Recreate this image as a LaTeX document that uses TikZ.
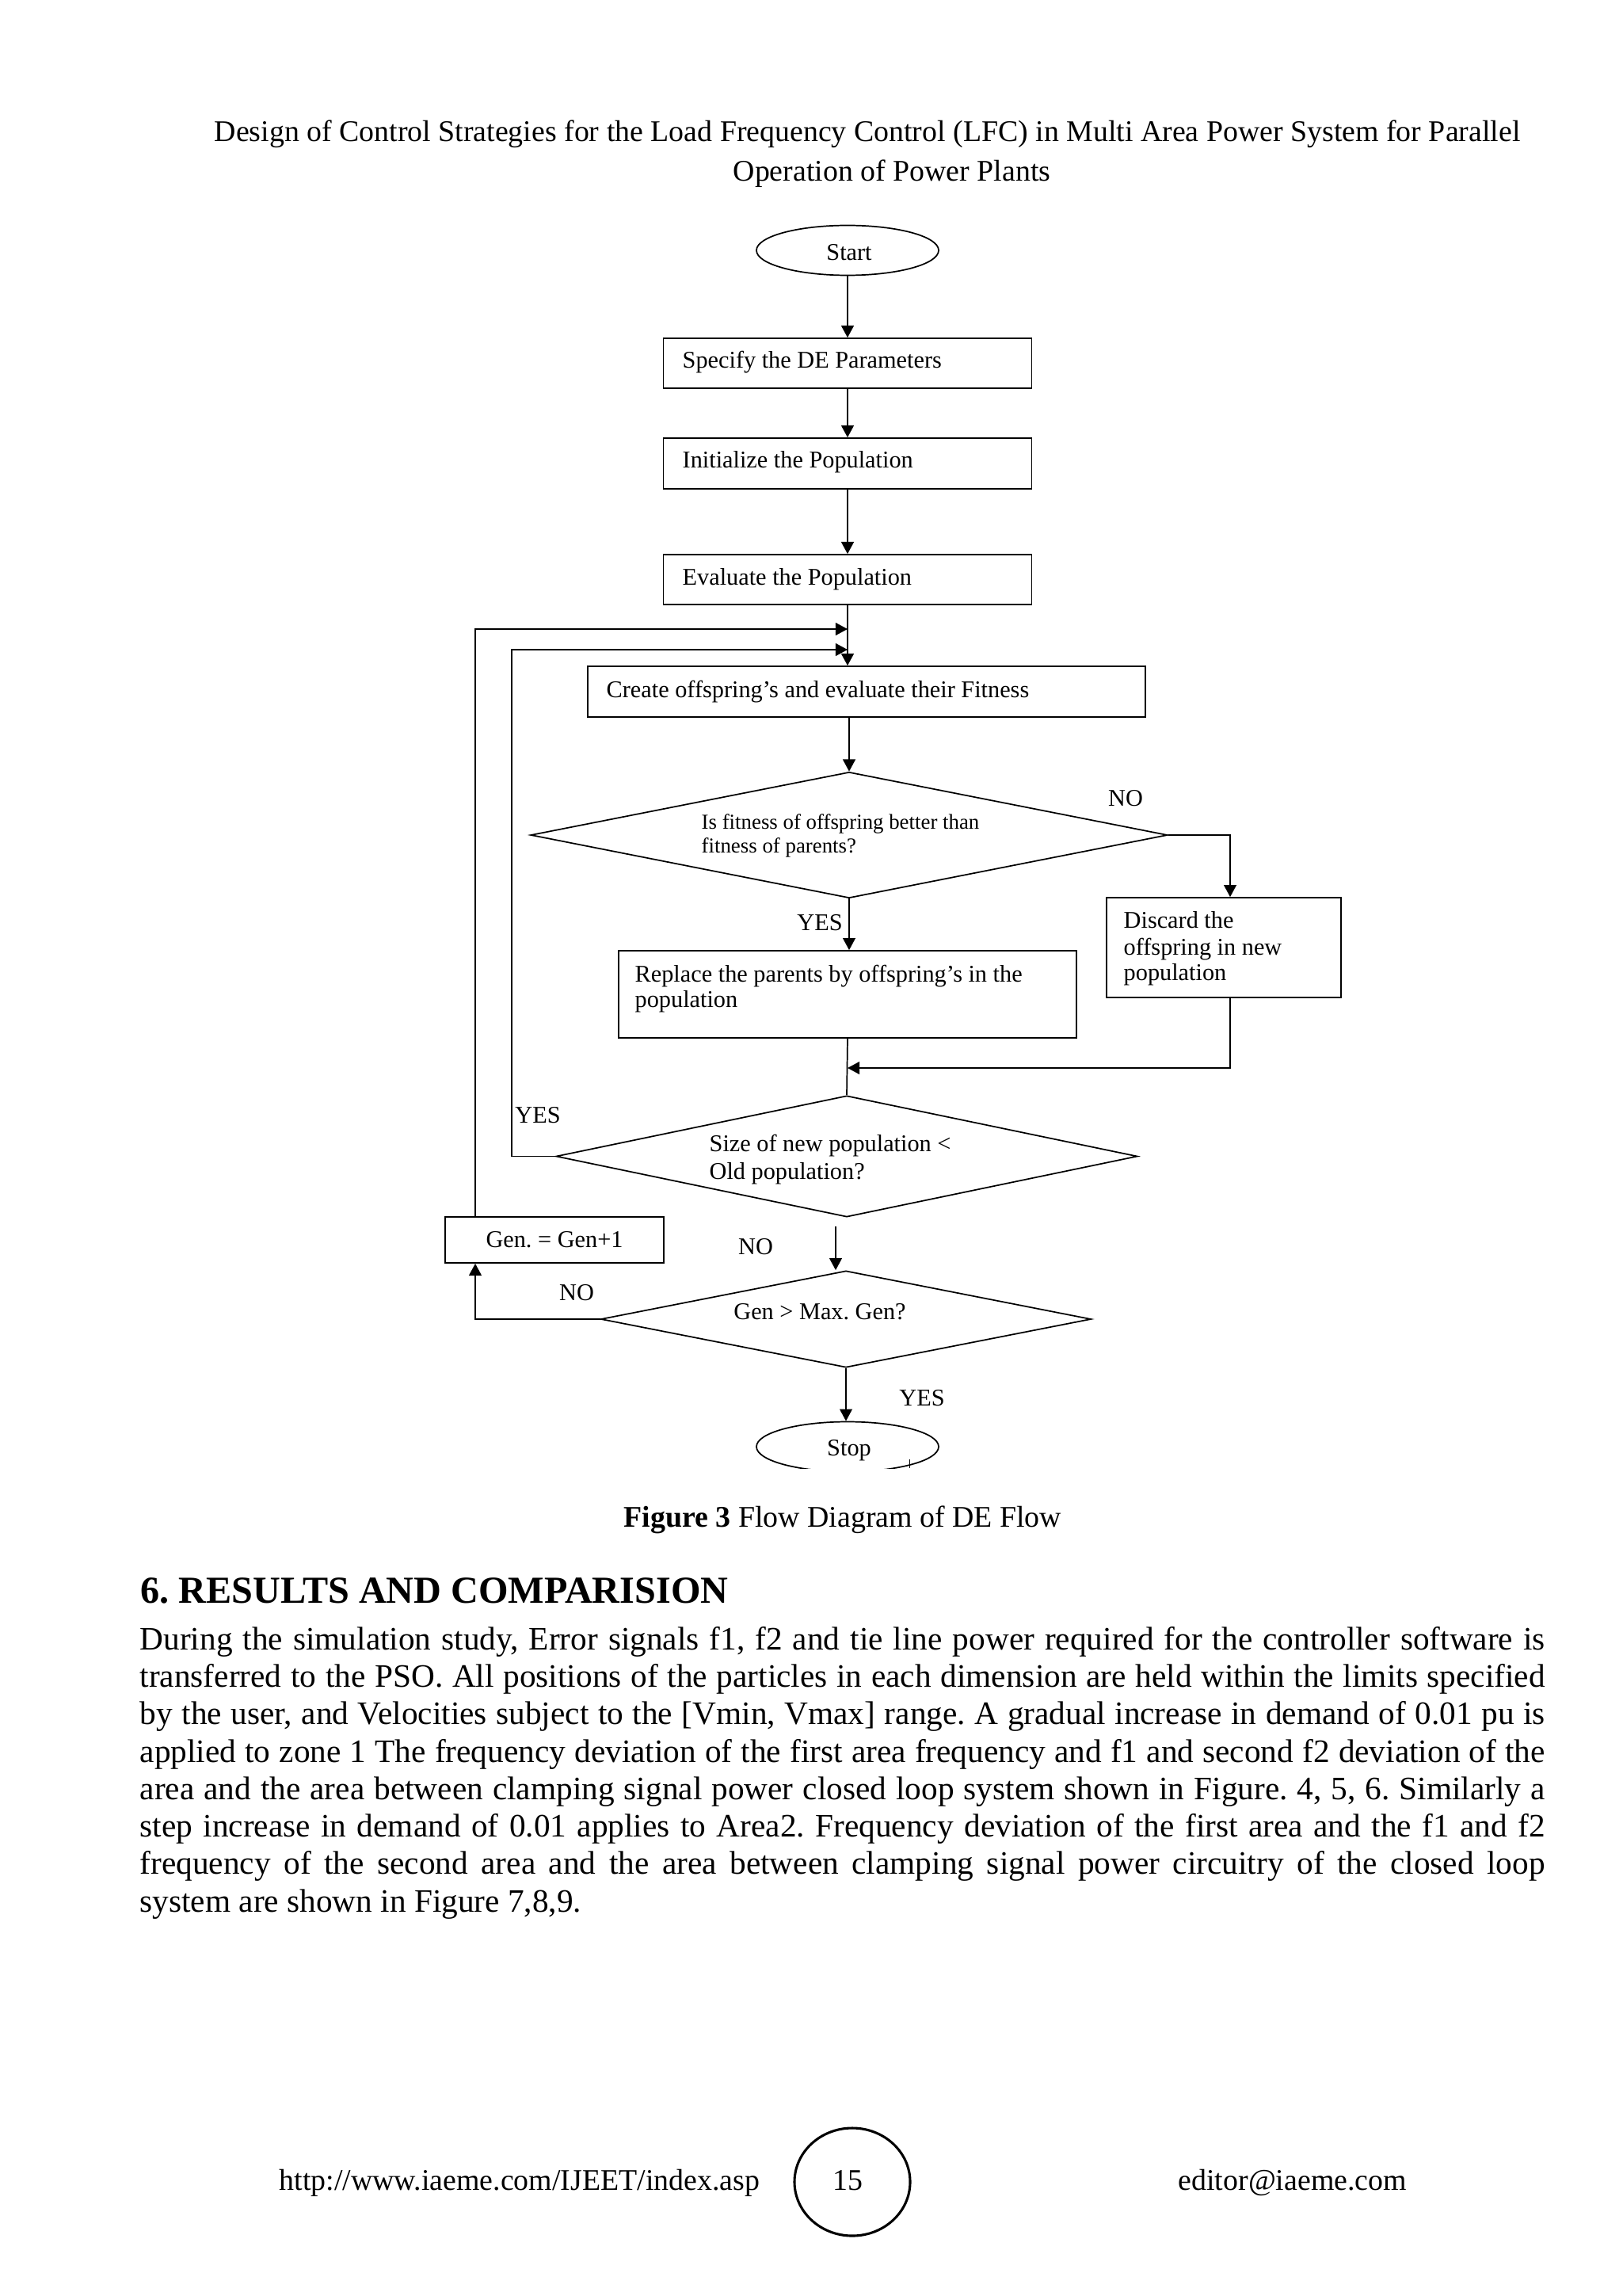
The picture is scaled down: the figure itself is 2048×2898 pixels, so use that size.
\documentclass[tikz,border=0pt]{standalone}
\usepackage{fontspec}
\setmainfont{Liberation Serif}[Ligatures=CommonOff]
\usetikzlibrary{shapes.geometric,arrows.meta,calc}
\def\pxu{0.29053pt}
\frenchspacing
\begin{document}
\begin{tikzpicture}[x=0.29053pt,y=-0.29053pt,
  box/.style={draw, line width=0.5pt, rectangle, inner sep=0pt},
  dia/.style={draw, line width=0.5pt, diamond, inner sep=0pt},
  term/.style={draw, line width=0.5pt, ellipse, inner sep=0pt},
  lbl/.style={font=\fontsize{8.8}{10}\selectfont, inner sep=0pt},
  lbls/.style={font=\fontsize{7.8}{9}\selectfont, inner sep=0pt},
  conn/.style={line width=0.5pt},
  arr/.style={conn, -{Triangle[width=4.6pt,length=4.4pt]}},
  page/.style={inner sep=0pt, font=\fontsize{11}{12.65}\selectfont},
]
\fill[white] (0,0) rectangle (2048,2898);
\useasboundingbox (0,0) rectangle (2048,2898);

% header
\node[page, anchor=base west] (hd1) at (270,179) {Design of Control Strategies for the Load Frequency Control (LFC) in Multi Area Power System for Parallel};
\node[page, anchor=base] (hd2) at (1126,229) {Operation of Power Plants};

% flowchart shapes
\node[term, minimum width=230*\pxu, minimum height=63*\pxu] (start) at (1070,316) {};
\node[box, minimum width=465*\pxu, minimum height=63*\pxu] (spec) at (1070,458.5) {};
\node[box, minimum width=465*\pxu, minimum height=64*\pxu] (init) at (1070,585) {};
\node[box, minimum width=465*\pxu, minimum height=63*\pxu] (eval) at (1070,731.5) {};
\node[box, minimum width=704*\pxu, minimum height=64*\pxu] (create) at (1094,873) {};
\node[dia, minimum width=804*\pxu, minimum height=159*\pxu] (fit) at (1072,1054) {};
\node[box, minimum width=296*\pxu, minimum height=126*\pxu] (discard) at (1545,1196) {};
\node[box, minimum width=578*\pxu, minimum height=110*\pxu] (replace) at (1070,1255) {};
\node[dia, minimum width=734*\pxu, minimum height=153*\pxu] (size) at (1069,1459.5) {};
\node[box, minimum width=276*\pxu, minimum height=58*\pxu] (gen) at (700,1565) {};
\node[dia, minimum width=619*\pxu, minimum height=122*\pxu] (maxg) at (1068,1665) {};
\begin{scope}
\clip (0,0) rectangle (2048,1853);
\node[term, minimum width=230*\pxu, minimum height=63*\pxu] (stop) at (1070,1826) {};
\end{scope}
\draw[conn, line width=0.3pt] (1148,1842) -- (1148,1853);

% texts in shapes
\node[lbl, anchor=base] (tstart) at (1072,329) {Start};
\node[lbl, anchor=base west] (tspec) at (861,465) {Specify the DE Parameters};
\node[lbl, anchor=base west] (tinit) at (861,591) {Initialize the Population};
\node[lbl, anchor=base west] (teval) at (861,738) {Evaluate the Population};
\node[lbl, anchor=base west] (tcreate) at (765,880) {Create offspring’s and evaluate their Fitness};
\node[lbls, anchor=base west] (tfit1) at (885,1046) {Is fitness of offspring better than};
\node[lbls, anchor=base west] (tfit2) at (885,1076) {fitness of parents?};
\node[lbl, anchor=base west] (tdis1) at (1418,1171) {Discard the};
\node[lbl, anchor=base west] (tdis2) at (1418,1205) {offspring in new};
\node[lbl, anchor=base west] (tdis3) at (1418,1237) {population};
\node[lbl, anchor=base west] (trep1) at (801,1239) {Replace the parents by offspring’s in the};
\node[lbl, anchor=base west] (trep2) at (801,1271) {population};
\node[lbl, anchor=base west] (tsize1) at (895,1453) {Size of new population <};
\node[lbl, anchor=base west] (tsize2) at (895,1488) {Old population?};
\node[lbl, anchor=base] (tgen) at (700,1574) {Gen. = Gen+1};
\node[lbl, anchor=base] (tmaxg) at (1035,1665) {Gen > Max. Gen?};
\node[lbl, anchor=base] (tstop) at (1072,1837) {Stop};

% labels
\node[lbl, anchor=base] (lno1) at (1421,1017) {NO};
\node[lbl, anchor=base] (lyes1) at (1035,1174) {YES};
\node[lbl, anchor=base] (lyes2) at (679,1417) {YES};
\node[lbl, anchor=base] (lno2) at (954,1583) {NO};
\node[lbl, anchor=base] (lno3) at (728,1641) {NO};
\node[lbl, anchor=base] (lyes3) at (1164,1774) {YES};

% helper coordinates
\coordinate (loopout) at (1070,794);
\coordinate (loopin) at (1070,820);
\coordinate (outx) at (600,0);
\coordinate (yesx) at (646,0);
\coordinate (join) at (1070,1348);

% connectors
\draw[arr] (start.south) -- (spec.north);
\draw[arr] (spec.south) -- (init.north);
\draw[arr] (init.south) -- (eval.north);
\draw[arr] (eval.south) -- (eval.south |- create.north);
\draw[arr] (fit.north |- create.south) -- (fit.north);
\draw[arr] (fit.east) -| ([shift={(8,0)}]discard.north);
\draw[arr] (fit.south) -- (fit.south |- replace.north);
\draw[conn] (replace.south) -- (size.north);
\draw[arr] ([shift={(8,0)}]discard.south) |- (join);
\draw[arr] (size.west) -| (yesx |- loopin) -- (loopin);
\draw[arr] ([shift={(-14,11)}]size.south) -- ([shift={(-13,0)}]maxg.north);
\draw[arr] (maxg.west) -| (outx |- gen.south);
\draw[arr] (outx |- gen.north) |- (loopout);
\draw[arr] (maxg.south) -- (maxg.south |- stop.north);

% caption and body
\node[page, anchor=base west] (cap) at (787,1927) {\textbf{Figure 3} Flow Diagram of DE Flow};
\node[inner sep=0pt, anchor=base west, font=\fontsize{14}{16}\selectfont\bfseries] (head) at (177,2023) {6. RESULTS AND COMPARISION};
\node[inner sep=0pt, anchor=base west, text width=515.4pt, align=justify, font=\fontsize{12}{13.75}\selectfont] (body) at (176,2082) {During the simulation study, Error signals f1, f2 and tie line power required for the controller software is\linebreak
transferred to the PSO. All positions of the particles in each dimension are held within the limits specified\linebreak
by the user, and Velocities subject to the [Vmin, Vmax] range. A gradual increase in demand of 0.01 pu is\linebreak
applied to zone 1 The frequency deviation of the first area frequency and f1 and second f2 deviation of the\linebreak
area and the area between clamping signal power closed loop system shown in Figure. 4, 5, 6. Similarly a\linebreak
step increase in demand of 0.01 applies to Area2. Frequency deviation of the first area and the f1 and f2\linebreak
frequency of the second area and the area between clamping signal power circuitry of the closed loop\linebreak
system are shown in Figure 7,8,9.};

% footer
\node[page, anchor=base west] (url) at (352,2764) {http://www.iaeme.com/IJEET/index.asp};
\node[draw, line width=0.9pt, ellipse, inner sep=0pt, minimum width=146*\pxu, minimum height=136*\pxu] (pgnum) at (1076,2754) {};
\node[page, anchor=base] (pgtxt) at (1070,2764) {15};
\node[page, anchor=base west] (mail) at (1487,2764) {editor@iaeme.com};
\end{tikzpicture}
\end{document}
